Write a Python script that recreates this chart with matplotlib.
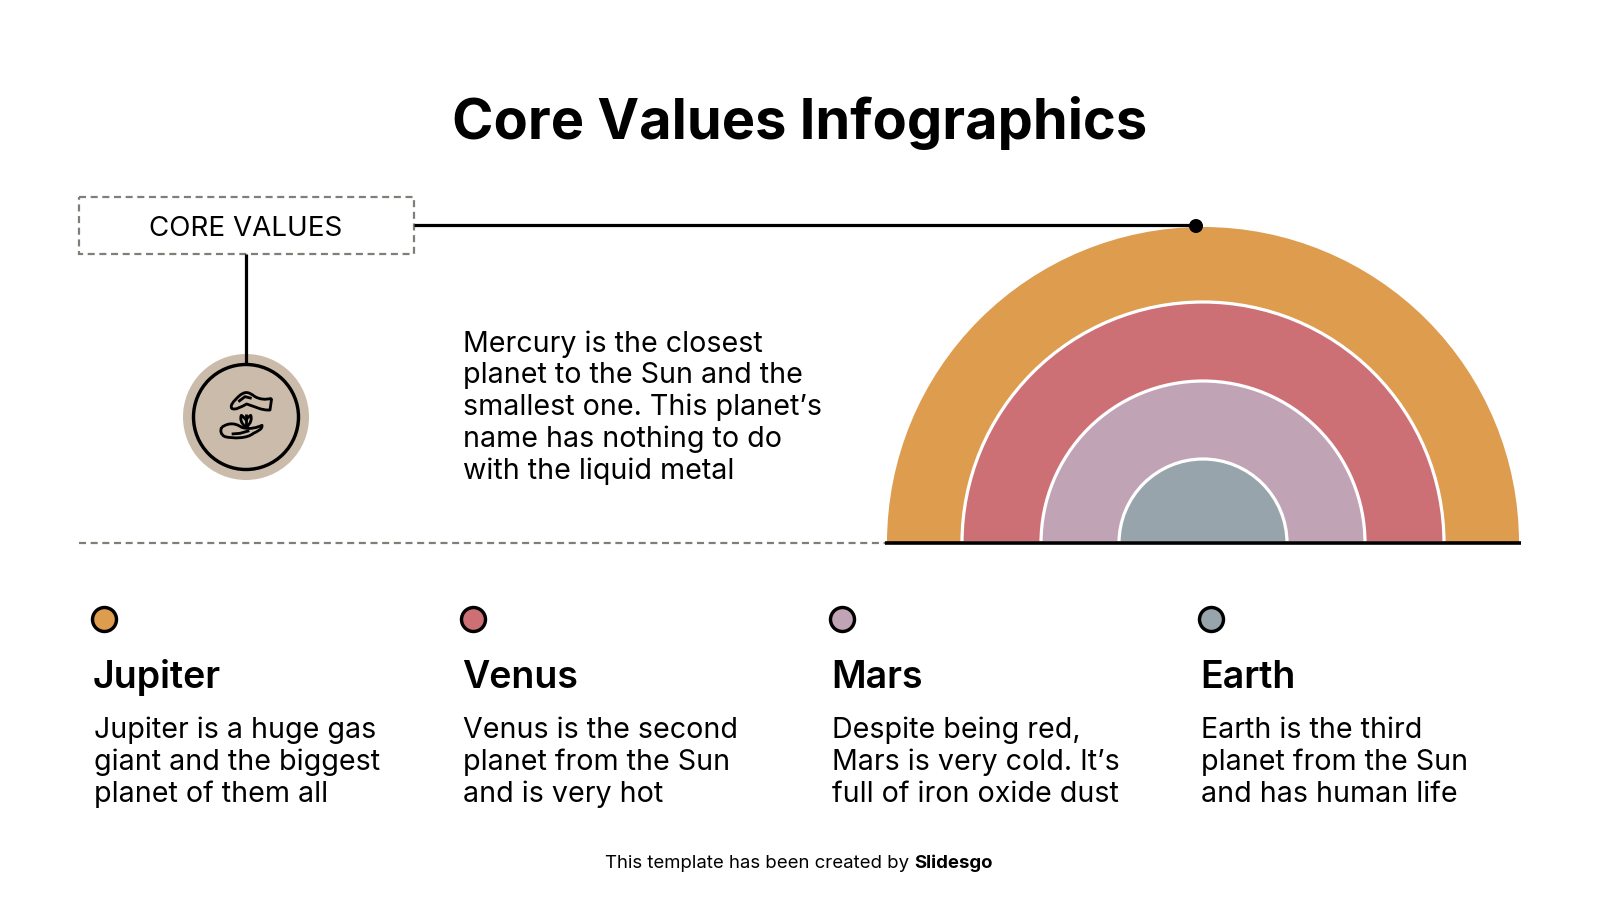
import matplotlib
matplotlib.use('Agg')
from matplotlib import pyplot as plt
from matplotlib.patches import Wedge, Circle, Rectangle, PathPatch
from matplotlib.path import Path

plt.rcParams['font.family'] = ['Inter', 'DejaVu Sans']

title = 'Core Values Infographics'
box_label = 'CORE VALUES'
description = ['Mercury is the closest', 'planet to the Sun and the', 'smallest one. This planet’s',
               'name has nothing to do', 'with the liquid metal']
names = ['Jupiter', 'Venus', 'Mars', 'Earth']
texts = [['Jupiter is a huge gas', 'giant and the biggest', 'planet of them all'],
         ['Venus is the second', 'planet from the Sun', 'and is very hot'],
         ['Despite being red,', 'Mars is very cold. It’s', 'full of iron oxide dust'],
         ['Earth is the third', 'planet from the Sun', 'and has human life']]
colors = ['#DE9C4F', '#CD7076', '#C1A3B6', '#97A4AC']
radii = [316, 241, 162, 84]
tan = '#CBBBAA'
dash_grey = '#7F7F78'
dashes = (0, (3.2, 2.1))

fig = plt.figure(figsize=(16, 9), dpi=100)
ax = fig.add_axes([0, 0, 1, 1])
ax.set_xlim(0, 1600)
ax.set_ylim(900, 0)
ax.axis('off')

def px(w):
  return w * 0.72

ax.text(800, 139, title, fontsize=40.3, fontweight='bold', color='black', ha='center', va='baseline')

# label box and connectors
ax.add_patch(Rectangle((79, 197), 335, 57, fill=False, ec=dash_grey, lw=px(2.2), ls=dashes))
ax.text(246, 236, box_label, fontsize=20, color='black', ha='center', va='baseline')
ax.plot([414, 1196], [225, 225], color='black', lw=px(3.2), solid_capstyle='butt')
ax.add_patch(Circle((1196, 226), 7, fc='black', ec='none', zorder=5))
ax.plot([246, 246], [254, 364], color='black', lw=px(3.2), solid_capstyle='butt')

# icon badge
ax.add_patch(Circle((246, 417), 63, fc=tan, ec='none'))
ax.add_patch(Circle((246, 417), 52.5, fc='none', ec='black', lw=px(3.4)))

def icon_xy(pts):
  return [(170 + a / 3, 340 + b / 3) for a, b in pts]

M, L, C = Path.MOVETO, Path.LINETO, Path.CURVE4
upper_hand = [(305, 175), (285, 180), (270, 178), (255, 170), (235, 155), (225, 152), (205, 170),
              (190, 185), (180, 195), (185, 205), (195, 212), (215, 200), (230, 192), (250, 198),
              (275, 212), (300, 210), (305, 175)]
upper_codes = [M] + [C] * 15 + [L]
finger = [(205, 185), (225, 170), (245, 175)]
lower_hand = [(155, 262), (175, 248), (195, 248), (215, 262), (240, 270), (262, 262), (276, 256),
              (278, 268), (262, 274), (250, 280), (232, 296), (190, 296), (165, 290), (152, 284),
              (150, 272), (155, 262)]
lower_codes = [M] + [C] * 15
finger_low = [(185, 282), (210, 280), (238, 272)]
leaf = [(228, 262), (212, 250), (210, 235), (214, 226), (220, 230), (225, 235), (228, 240),
        (231, 235), (236, 230), (242, 226), (246, 235), (244, 250), (228, 262)]
leaf_codes = [M] + [C] * 12
stem = [(228, 222), (228, 262)]
for pts, codes in [(upper_hand, upper_codes), (lower_hand, lower_codes), (leaf, leaf_codes),
                   (finger, [M, L, L]), (finger_low, [M, L, L]), (stem, [M, L])]:
  ax.add_patch(PathPatch(Path(icon_xy(pts), codes), fc='none', ec='black', lw=px(2.8), joinstyle='round'))

# description
for i, line in enumerate(description):
  ax.text(463, 351.5 + i * 31.8, line, fontsize=20.6, color='black', ha='left', va='baseline')

# half circles
for r, c in zip(radii, colors):
  edge = 'none' if r == radii[0] else 'white'
  ax.add_patch(Wedge((1203, 543), r, 180, 360, fc=c, ec=edge, lw=px(3.2)))
ax.plot([79, 885], [543, 543], color=dash_grey, lw=px(2.2), ls=dashes)
ax.plot([885, 1521], [543, 543], color='black', lw=px(3.6), solid_capstyle='butt')

# planet columns
columns = [94, 463, 832, 1201]
for x, name, lines, c in zip(columns, names, texts, colors):
  ax.add_patch(Circle((x + 10.5, 619.5), 12, fc=c, ec='black', lw=px(3.4)))
  ax.text(x - 1, 688, name, fontsize=27, fontweight='semibold', color='black', ha='left', va='baseline')
  for i, line in enumerate(lines):
    ax.text(x, 737.5 + i * 32, line, fontsize=20.6, color='black', ha='left', va='baseline')

footer = ax.annotate('This template has been created by ', xy=(605, 868), fontsize=13.4,
                     color='black', ha='left', va='baseline')
ax.annotate('Slidesgo', xy=(1, 0), xycoords=footer, fontsize=13.4, fontweight='bold',
            color='black', ha='left', va='bottom')

fig.savefig('out.png', dpi=100, facecolor='white')
